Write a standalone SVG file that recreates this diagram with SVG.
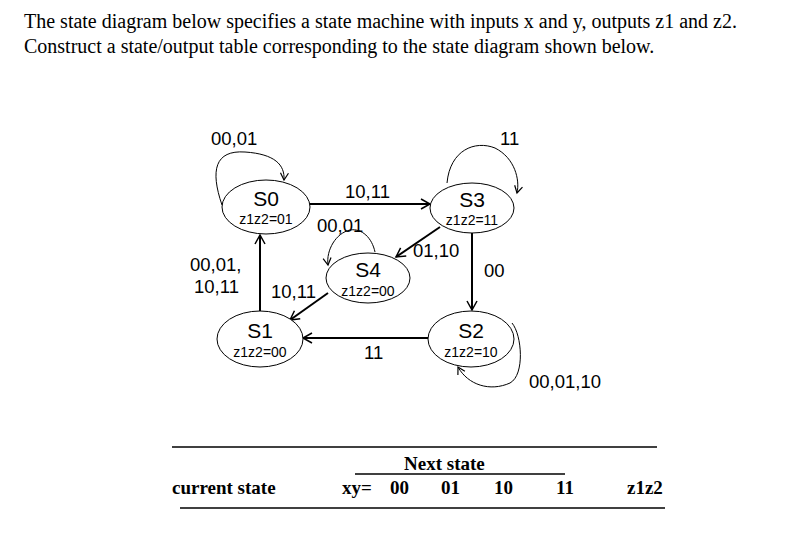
<svg xmlns="http://www.w3.org/2000/svg" width="796" height="546" viewBox="0 0 796 546">
<style>
.t{font-family:"Liberation Serif",serif;font-size:20px;fill:#000}
.b{font-family:"Liberation Serif",serif;font-size:19px;font-weight:bold;fill:#000}
.s{font-family:"Liberation Sans",Arial,sans-serif;font-size:18.5px;fill:#000}
.n{font-family:"Liberation Sans",Arial,sans-serif;font-size:21px;text-anchor:middle}
.z{font-family:"Liberation Sans",Arial,sans-serif;font-size:14px;text-anchor:middle}
ellipse{fill:#fff;stroke:#000;stroke-width:1}
.e{fill:none;stroke:#000;stroke-width:2;marker-end:url(#a)}
.l{fill:none;stroke:#000;stroke-width:1;marker-end:url(#a2)}
</style>
<defs>
<marker id="a" markerWidth="12" markerHeight="12" refX="10" refY="6" orient="auto" markerUnits="userSpaceOnUse"><path d="M1,1 L10,6 L1,11" fill="none" stroke="#000" stroke-width="1.5"/></marker>
<marker id="a2" markerWidth="10" markerHeight="10" refX="8" refY="5" orient="auto" markerUnits="userSpaceOnUse"><path d="M1,1 L8,5 L1,9" fill="none" stroke="#000" stroke-width="1.2"/></marker>
</defs>
<rect width="796" height="546" fill="#fff"/>
<text class="t" x="24" y="28">The state diagram below specifies a state machine with inputs x and y, outputs z1 and z2.</text>
<text class="t" x="24" y="53">Construct a state/output table corresponding to the state diagram shown below.</text>
<g id="connectors">
<path class="e" d="M310,204 L430,204"/>
<path class="e" d="M472,233 L472,310"/>
<path class="e" d="M428,338 L303,338"/>
<path class="e" d="M260,311 L260,235"/>
<path class="e" d="M440,227 L396,257"/>
<path class="e" d="M328,293 L290,320"/>
<path class="l" d="M222,205 C210,170 215,150 245,152 C275,154 285,165 284,180"/>
<path class="l" d="M447,183 C450,150 475,140 495,148 C515,158 520,180 517,193"/>
<path class="l" d="M375,252 C372,238 362,228 350,230 C336,233 326,250 328,265"/>
<path class="l" d="M512,323 C522,335 525,375 510,383 C490,392 468,385 458,367"/>
<text class="s" x="211" y="145">00,01</text>
<text class="s" x="500" y="145">11</text>
<text class="s" x="345" y="198">10,11</text>
<text class="s" x="317" y="232">00,01</text>
<text class="s" x="413" y="257">01,10</text>
<text class="s" x="484" y="277">00</text>
<text class="s" x="190" y="271">00,01,</text>
<text class="s" x="194" y="293">10,11</text>
<text class="s" x="271" y="298">10,11</text>
<text class="s" x="364" y="359">11</text>
<text class="s" x="529" y="388">00,01,10</text>
</g>
<g id="S0"><ellipse cx="266" cy="207" rx="44" ry="27"/><text class="n" x="266" y="206">S0</text><text class="z" x="266" y="224">z1z2=01</text></g>
<g id="S3"><ellipse cx="472" cy="208" rx="42" ry="25"/><text class="n" x="472" y="207">S3</text><text class="z" x="472" y="225">z1z2=11</text></g>
<g id="S4"><ellipse cx="368" cy="278" rx="42" ry="25"/><text class="n" x="368" y="277">S4</text><text class="z" x="368" y="296">z1z2=00</text></g>
<g id="S1"><ellipse cx="260" cy="339" rx="43" ry="28"/><text class="n" x="260" y="338">S1</text><text class="z" x="260" y="357">z1z2=00</text></g>
<g id="S2"><ellipse cx="471" cy="339" rx="43" ry="28"/><text class="n" x="471" y="338">S2</text><text class="z" x="471" y="357">z1z2=10</text></g>
<g id="table" stroke="#000" stroke-width="1.5">
<line x1="172" y1="447" x2="657" y2="447"/>
<line x1="355" y1="474" x2="565" y2="474"/>
<line x1="180" y1="508" x2="665" y2="508"/>
</g>
<text class="b" x="404" y="470">Next state</text>
<text class="b" x="172" y="494">current state</text>
<text class="b" x="342" y="494">xy=</text>
<text class="b" x="390" y="494">00</text>
<text class="b" x="441" y="494">01</text>
<text class="b" x="494" y="494">10</text>
<text class="b" x="556" y="494">11</text>
<text class="b" x="627" y="494">z1z2</text>
</svg>
